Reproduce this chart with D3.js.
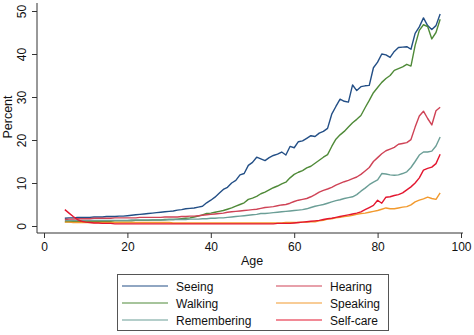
<!DOCTYPE html>
<html>
<head>
<meta charset="utf-8">
<script src="https://cdn.jsdelivr.net/npm/d3@7"></script>
<style>
    body { margin: 0; background: #fff; }
    svg text { font-family: "Liberation Sans", Arial, sans-serif; fill: #111; }
</style>
</head>
<body>
<svg id="chart" width="474" height="335"></svg>
<script>
// Ages 5..95, one value per year (percent)
const ages = d3.range(5, 96);

const seeing = [1.8, 1.9, 1.9, 2.0, 2.0, 2.0, 2.0, 2.1, 2.1, 2.1, 2.2, 2.2, 2.2, 2.3, 2.3,
    2.4, 2.5, 2.6, 2.7, 2.8, 2.9, 3.0, 3.1, 3.2, 3.3, 3.4, 3.5, 3.7, 3.8, 4.0,
    4.1, 4.2, 4.4, 4.6, 5.4, 6.0, 6.7, 7.6, 8.5, 9.0, 10.0, 10.6, 11.9, 12.2, 14.1,
    14.8, 16.0, 15.6, 15.2, 15.9, 16.4, 16.7, 17.2, 16.5, 18.5, 18.2, 19.6, 19.8, 20.4, 21.0,
    20.8, 21.6, 22.0, 22.7, 26.0, 27.8, 29.5, 29.0, 28.8, 32.8, 31.5, 32.4, 32.6, 32.7, 36.8,
    38.1, 40.0, 39.8, 39.2, 40.6, 41.5, 41.6, 41.7, 41.1, 44.8, 46.3, 48.4, 46.6, 45.7, 46.6, 49.3];

const walking = [1.0, 1.0, 1.0, 1.0, 1.0, 1.0, 1.0, 1.1, 1.1, 1.1, 1.1, 1.1, 1.2, 1.2, 1.2,
    1.2, 1.2, 1.3, 1.3, 1.3, 1.3, 1.4, 1.4, 1.4, 1.5, 1.5, 1.5, 1.6, 1.7, 1.8,
    1.9, 2.1, 2.3, 2.6, 2.9, 3.0, 3.2, 3.4, 3.6, 3.9, 4.2, 4.6, 5.0, 5.4, 6.2,
    6.5, 6.9, 7.5, 7.9, 8.4, 8.9, 9.3, 9.8, 10.2, 11.2, 12.0, 12.5, 12.9, 13.5, 13.9,
    14.6, 15.3, 16.0, 16.6, 18.5, 20.2, 21.2, 22.0, 23.0, 24.0, 24.8, 25.7, 27.5, 29.2, 31.0,
    32.2, 33.4, 34.3, 35.0, 36.2, 36.6, 37.0, 37.6, 37.2, 42.0, 45.5, 46.8, 46.4, 43.5, 45.0, 48.1];

const remembering = [1.3, 1.3, 1.3, 1.3, 1.3, 1.3, 1.3, 1.3, 1.3, 1.3, 1.3, 1.3, 1.3, 1.3, 1.3,
    1.3, 1.4, 1.4, 1.4, 1.4, 1.4, 1.4, 1.4, 1.4, 1.4, 1.5, 1.5, 1.5, 1.5, 1.5,
    1.6, 1.6, 1.6, 1.7, 1.7, 1.8, 1.8, 1.9, 1.9, 2.0, 2.1, 2.2, 2.3, 2.4, 2.5,
    2.6, 2.7, 2.9, 2.9, 3.0, 3.1, 3.2, 3.3, 3.4, 3.5, 3.6, 3.7, 3.8, 4.0, 4.3,
    4.6, 4.8, 5.0, 5.3, 5.6, 5.9, 6.1, 6.4, 6.6, 6.8, 7.3, 8.1, 8.8, 9.6, 10.2,
    10.7, 12.2, 12.1, 11.9, 11.8, 11.9, 12.2, 12.6, 13.6, 15.0, 16.5, 17.2, 17.2, 17.4, 18.6, 20.7];

const hearing = [1.5, 1.6, 1.6, 1.7, 1.7, 1.7, 1.7, 1.8, 1.8, 1.8, 1.8, 1.8, 1.9, 1.9, 1.9,
    1.9, 1.9, 1.9, 2.0, 2.0, 2.0, 2.0, 2.0, 2.0, 2.1, 2.1, 2.1, 2.1, 2.2, 2.2,
    2.3, 2.3, 2.4, 2.5, 2.6, 2.7, 2.8, 2.9, 3.0, 3.2, 3.3, 3.4, 3.5, 3.6, 3.7,
    3.8, 3.9, 4.1, 4.3, 4.4, 4.5, 4.7, 4.9, 5.0, 5.3, 5.7, 6.0, 6.2, 6.4, 6.8,
    7.3, 7.9, 8.3, 8.6, 9.0, 9.5, 9.9, 10.3, 10.6, 11.0, 11.4, 12.0, 12.8, 13.6, 15.0,
    15.9, 16.8, 17.5, 17.9, 18.3, 19.0, 19.2, 19.4, 20.1, 23.0, 25.6, 26.7, 25.0, 23.5, 26.8, 27.6];

const speaking = [0.9, 0.9, 0.8, 0.8, 0.8, 0.8, 0.8, 0.8, 0.8, 0.8, 0.8, 0.8, 0.8, 0.8, 0.8,
    0.8, 0.8, 0.8, 0.8, 0.8, 0.8, 0.8, 0.8, 0.8, 0.8, 0.8, 0.7, 0.7, 0.7, 0.7,
    0.7, 0.7, 0.7, 0.7, 0.7, 0.7, 0.7, 0.7, 0.7, 0.7, 0.7, 0.7, 0.7, 0.7, 0.7,
    0.7, 0.7, 0.7, 0.7, 0.7, 0.7, 0.7, 0.7, 0.8, 0.8, 0.8, 0.8, 0.9, 0.9, 1.0,
    1.0, 1.2, 1.3, 1.6, 1.7, 1.9, 2.0, 2.2, 2.3, 2.5, 2.7, 2.9, 3.0, 3.2, 3.4,
    3.6, 3.9, 4.2, 4.0, 4.0, 4.2, 4.4, 4.5, 4.9, 5.6, 6.0, 6.3, 6.7, 6.4, 6.2, 7.7];

const selfCare = [3.8, 3.0, 2.2, 1.5, 1.1, 0.9, 0.8, 0.7, 0.7, 0.6, 0.6, 0.6, 0.5, 0.5, 0.5,
    0.5, 0.5, 0.5, 0.5, 0.5, 0.5, 0.5, 0.5, 0.5, 0.5, 0.5, 0.5, 0.5, 0.5, 0.5,
    0.5, 0.5, 0.5, 0.5, 0.5, 0.5, 0.5, 0.5, 0.5, 0.5, 0.5, 0.5, 0.5, 0.5, 0.5,
    0.5, 0.5, 0.5, 0.5, 0.5, 0.5, 0.6, 0.6, 0.6, 0.6, 0.7, 0.8, 0.9, 1.0, 1.1,
    1.2, 1.3, 1.5, 1.7, 1.8, 2.0, 2.2, 2.4, 2.6, 2.8, 3.0, 3.3, 3.8, 4.3, 4.8,
    6.0, 5.3, 6.7, 6.8, 7.1, 7.3, 7.7, 8.4, 9.1, 10.0, 11.2, 13.0, 13.4, 13.7, 14.5, 16.7];

const xTicks = [0, 20, 40, 60, 80, 100];
const yTicks = [0, 10, 20, 30, 40, 50];

// legend order: left column then right column
const seriesList = [
    { name: 'Seeing', values: seeing, color: '#234f86' },
    { name: 'Walking', values: walking, color: '#4f8a38' },
    { name: 'Remembering', values: remembering, color: '#6b9e96' },
    { name: 'Hearing', values: hearing, color: '#cf4356' },
    { name: 'Speaking', values: speaking, color: '#f29a2e' },
    { name: 'Self-care', values: selfCare, color: '#e3162f' }
];

const svg = d3.select('#chart');

const x = d3.scaleLinear().domain([0, 100]).range([44, 461]);
const y = d3.scaleLinear().domain([0, 50]).range([226, 11]);

const axisColor = '#333';

// Axis lines (plot region is a bit larger than the data range)
svg.append('line')
    .attr('x1', 37).attr('x2', 463)
    .attr('y1', 233).attr('y2', 233)
    .attr('stroke', axisColor).attr('stroke-width', 1);

svg.append('line')
    .attr('x1', 37).attr('x2', 37)
    .attr('y1', 233).attr('y2', 3)
    .attr('stroke', axisColor).attr('stroke-width', 1);

// X axis
const xAxis = svg.append('g')
    .attr('transform', 'translate(0,233)')
    .call(d3.axisBottom(x).tickValues(xTicks).tickSize(5).tickPadding(4));
xAxis.select('.domain').remove();
xAxis.selectAll('line').attr('stroke', axisColor);
xAxis.selectAll('text')
    .attr('font-size', 12)
    .attr('font-family', '"Liberation Sans", Arial, sans-serif')
    .attr('fill', '#111');

// Y axis with vertical labels
const yAxis = svg.append('g')
    .attr('transform', 'translate(37,0)')
    .call(d3.axisLeft(y).tickValues(yTicks).tickSize(5));
yAxis.select('.domain').remove();
yAxis.selectAll('line').attr('stroke', axisColor);
yAxis.selectAll('text')
    .attr('x', null).attr('dy', null)
    .attr('transform', 'translate(-11,0) rotate(-90)')
    .attr('text-anchor', 'middle')
    .attr('font-size', 12)
    .attr('font-family', '"Liberation Sans", Arial, sans-serif')
    .attr('fill', '#111');

// Axis titles
svg.append('text')
    .attr('x', 252).attr('y', 265)
    .attr('text-anchor', 'middle')
    .attr('font-size', 12.5)
    .text('Age');

svg.append('text')
    .attr('transform', 'translate(12,117) rotate(-90)')
    .attr('text-anchor', 'middle')
    .attr('font-size', 12.5)
    .text('Percent');

// Lines
const line = d3.line()
    .x((d, i) => x(ages[i]))
    .y(d => y(d));

svg.append('g')
    .selectAll('path')
    .data(seriesList)
    .join('path')
    .attr('d', d => line(d.values))
    .attr('fill', 'none')
    .attr('stroke', d => d.color)
    .attr('stroke-width', 1.4)
    .attr('stroke-linejoin', 'round');

// Legend
const legend = svg.append('g');
legend.append('rect')
    .attr('x', 117.5).attr('y', 274.5)
    .attr('width', 271).attr('height', 56)
    .attr('fill', '#fff')
    .attr('stroke', '#555')
    .attr('stroke-width', 1);

const item = legend.selectAll('g.item')
    .data(seriesList)
    .join('g')
    .attr('class', 'item')
    .attr('transform', (d, i) => {
        const col = Math.floor(i / 3);
        const row = i % 3;
        return `translate(${col === 0 ? 122 : 276},${286 + row * 17})`;
    });

item.append('line')
    .attr('x1', 0).attr('x2', 46)
    .attr('y1', 0).attr('y2', 0)
    .attr('stroke', d => d.color)
    .attr('stroke-width', 1.2);

item.append('text')
    .attr('x', 54).attr('y', 4.5)
    .attr('font-size', 12)
    .text(d => d.name);
</script>
</body>
</html>
